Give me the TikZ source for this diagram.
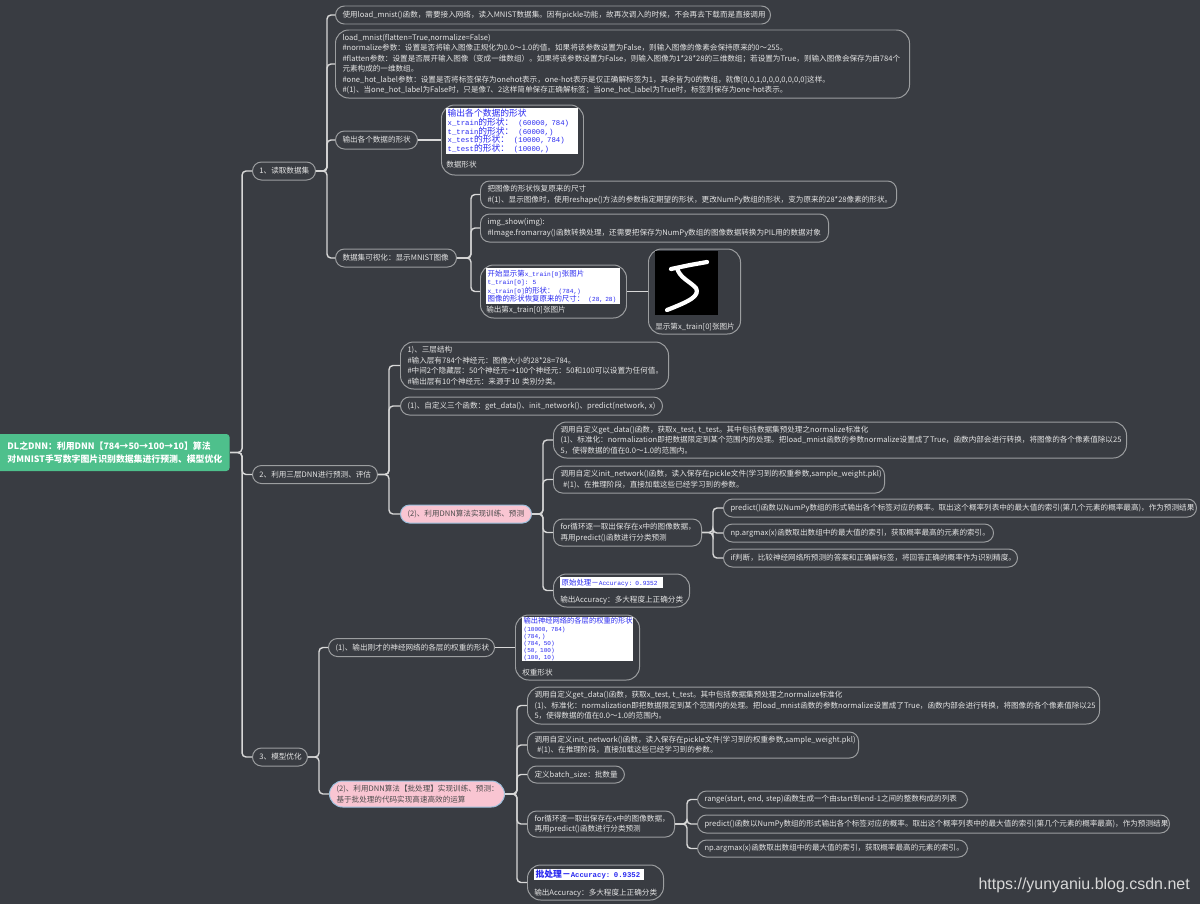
\documentclass[tikz,border=0pt]{standalone}
\usepackage{fontspec}
\setmainfont{Noto Sans CJK SC}
\setmonofont{Liberation Mono}
\setsansfont{Liberation Sans}
\newfontfamily\cnfont[Scale=1.2]{Noto Sans CJK SC}
\newcommand{\cn}[1]{{\cnfont #1}}
\definecolor{bggray}{HTML}{393C42}
\definecolor{edgegray}{HTML}{9C9EA0}
\definecolor{linkgray}{HTML}{D8D8D8}
\definecolor{textgray}{HTML}{E4E4E4}
\definecolor{rootgreen}{HTML}{4EC08C}
\definecolor{alertpink}{HTML}{F9C5D2}
\definecolor{alertedge}{HTML}{9CC0DC}
\definecolor{codeblue}{HTML}{2A2AF0}
\tikzset{
  topic/.style 2 args={draw=edgegray, line width=0.7pt, rounded corners=0.225cm, text=textgray, align=left,
    font=\fontsize{5.4}{7.5}\selectfont, anchor=west, inner ysep=0pt, inner xsep=0.175cm,
    text width=(#1-14)*0.025cm, minimum height=#2*0.025cm},
  tall/.style={rounded corners=0.33cm},
  alert/.style={fill=alertpink, draw=alertedge, text=black!70},
  shot/.style 2 args={fill=white, text=codeblue, align=left, anchor=north west, inner xsep=1pt, inner ysep=0pt,
    text width=#1*0.025cm-2pt, minimum height=#2*0.025cm,
    execute at begin node={\lineskiplimit=-10pt}},
  caption/.style={text=textgray, font=\fontsize{5.4}{7.5}\selectfont, anchor=west, inner sep=0pt},
  link/.style={draw=linkgray, line width=1pt, rounded corners=0.1cm},
}
\begin{document}
\begin{tikzpicture}[x=0.025cm, y=-0.025cm]
\useasboundingbox (0,0) rectangle (1200,904);
\clip (0,0) rectangle (1200,904);
\fill[bggray] (0,0) rectangle (1200,904);

% root and main branches
\node[topic={234}{37}, fill=rootgreen, draw=none, rounded corners=0.08cm, text=white, font=\bfseries\fontsize{6.3}{9}\selectfont, inner xsep=0.3cm, text width=5.25cm] (root) at (-5,452.5) {DL之DNN：利用DNN【784→50→100→10】算法\\对MNIST手写数字图片识别数据集进行预测、模型优化};
\node[topic={63}{18}] (read) at (252,171) {1、读取数据集};
\node[topic={125}{18}] (eval) at (252,474.5) {2、利用三层DNN进行预测、评估};
\node[topic={55}{18}] (tune) at (252,757) {3、模型优化};

% first branch
\node[topic={435}{18}] (mnist) at (335,15) {使用load\_mnist()函数，需要接入网络，读入MNIST数据集。因有pickle功能，故再次调入的时候，不会再去下载而是直接调用};
\node[topic={574}{68}, tall] (args) at (335,64) {load\_mnist(flatten=True,normalize=False)\\
\#normalize参数：设置是否将输入图像正规化为0.0～1.0的值。如果将该参数设置为False，则输入图像的像素会保持原来的0～255。\\
\#flatten参数：设置是否展开输入图像（变成一维数组）。如果将该参数设置为False，则输入图像为1*28*28的三维数组；若设置为True，则输入图像会保存为由784个\\
元素构成的一维数组。\\
\#one\_hot\_label参数：设置是否将标签保存为onehot表示，one-hot表示是仅正确解标签为1，其余皆为0的数组，就像[0,0,1,0,0,0,0,0,0,0]这样。\\
\#(1)、当one\_hot\_label为False时，只是像7、2这样简单保存正确解标签；当one\_hot\_label为True时，标签则保存为one-hot表示。};
\node[topic={82}{18}] (shape) at (335,140) {输出各个数据的形状};
\node[topic={142}{70}, tall] (shapepanel) at (441,140) {};
\node[shot={132}{46}, font=\ttfamily\fontsize{5.2}{6.2}\selectfont] (shapeshot) at (446,108) {\cn{输出各个数据的形状}\\x\_train\cn{的形状：}~~(60000, 784)\\t\_train\cn{的形状：}~~(60000,)\\x\_test\cn{的形状：}~~(10000, 784)\\t\_test\cn{的形状：}~~(10000,)};
\node[caption] (shapecap) at (446,165) {数据形状};
\node[topic={121}{18}] (show) at (335,258) {数据集可视化：显示MNIST图像};

\node[topic={416}{27}] (reshape) at (480,194.5) {把图像的形状恢复原来的尺寸\\\#(1)、显示图像时，使用reshape()方法的参数指定期望的形状，更改NumPy数组的形状，变为原来的28*28像素的形状。};
\node[topic={348}{28}] (imgshow) at (480,228) {img\_show(img):\\\#Image.fromarray()函数转换处理，还需要把保存为NumPy数组的图像数据转换为PIL用的数据对象};
\node[topic={146}{53}, tall] (firstpanel) at (480,291.5) {};
\node[shot={134}{36}, font=\ttfamily\fontsize{4.4}{6}\selectfont] (firstshot) at (486,268) {\cn{开始显示第}x\_train[0]\cn{张图片}\\t\_train[0]:~~5\\x\_train[0]\cn{的形状：}~~(784,)\\\cn{图像的形状恢复原来的尺寸：}~~(28, 28)};
\node[caption] (firstcap) at (486,310) {输出第x\_train[0]张图片};
\node[topic={92}{85}, tall] (digitpanel) at (648,291.5) {};
\node[fill=black, anchor=north west, minimum width=1.575cm, minimum height=1.6cm, inner sep=0pt] (digit) at (655,251) {};
\draw[white, line width=3pt, line cap=round, line join=round] (671,269) -- (690,265) -- (707,262);
\draw[white, line width=3pt, line cap=round, line join=round] (677,268) .. controls (680,278) and (688,280) .. (696,288) .. controls (700,296) and (690,301) .. (667,310);
\node[caption] (digitcap) at (655,327) {显示第x\_train[0]张图片};

% second branch
\node[topic={268}{47}, tall] (layers) at (400,365.5) {1)、三层结构\\\#输入层有784个神经元：图像大小的28*28=784。\\\#中间2个隐藏层：50个神经元→100个神经元：50和100可以设置为任何值。\\\#输出层有10个神经元：来源于10 类别分类。};
\node[topic={262}{18}] (funcs) at (400,406) {(1)、自定义三个函数：get\_data()、init\_network()、predict(network,~x)};
\node[topic={131}{18}, alert] (train) at (400,514) {(2)、利用DNN算法实现训练、预测};

\node[topic={573}{36}, tall] (getdata) at (553,440) {调用自定义get\_data()函数，获取x\_test, t\_test。其中包括数据集预处理之normalize标准化\\(1)、标准化：normalization即把数据限定到某个范围内的处理。把load\_mnist函数的参数normalize设置成了True，函数内部会进行转换，将图像的各个像素值除以25\\5，使得数据的值在0.0～1.0的范围内。};
\node[topic={331}{27}] (initnet) at (553,479.5) {调用自定义init\_network()函数，读入保存在pickle文件(学习到的权重参数,sample\_weight.pkl)\\~\#(1)、在推理阶段，直接加载这些已经学习到的参数。};
\node[topic={148}{27}] (loop) at (553,532.5) {for循环逐一取出保存在x中的图像数据，\\再用predict()函数进行分类预测};
\node[topic={136}{33}, tall] (accpanel) at (553,590.5) {};
\node[shot={103}{11}, font=\ttfamily\fontsize{4.4}{6}\selectfont] (accshot) at (560,577) {\cn{原始处理－}Accuracy: 0.9352};
\node[caption] (acccap) at (560,600) {输出Accuracy：多大程度上正确分类};

\node[topic={473}{18}] (predict) at (723,508) {predict()函数以NumPy数组的形式输出各个标签对应的概率。取出这个概率列表中的最大值的索引(第几个元素的概率最高)，作为预测结果};
\node[topic={270}{18}] (argmax) at (723,533) {np.argmax(x)函数取出数组中的最大值的索引，获取概率最高的元素的索引。};
\node[topic={294}{18}] (ifcheck) at (723,558) {if判断，比较神经网络所预测的答案和正确解标签，将回答正确的概率作为识别精度。};

% third branch
\node[topic={166}{18}] (weights) at (328,647.5) {(1)、输出刚才的神经网络的各层的权重的形状};
\node[topic={124}{65}, tall] (weightpanel) at (515,647.5) {};
\node[shot={111}{44}, font=\ttfamily\fontsize{4.3}{5.1}\selectfont] (weightshot) at (522,617) {\cn{输出神经网络的各层的权重的形状}\\(10000, 784)\\(784,)\\(784, 50)\\(50, 100)\\(100, 10)};
\node[caption] (weightcap) at (522,673) {权重形状};
\node[topic={175}{26}, alert, tall] (batch) at (329,794) {(2)、利用DNN算法【批处理】实现训练、预测：\\基于批处理的代码实现高速高效的运算};

\node[topic={572}{37}, tall] (getdatab) at (527,705.5) {调用自定义get\_data()函数，获取x\_test, t\_test。其中包括数据集预处理之normalize标准化\\(1)、标准化：normalization即把数据限定到某个范围内的处理。把load\_mnist函数的参数normalize设置成了True，函数内部会进行转换，将图像的各个像素值除以25\\5，使得数据的值在0.0～1.0的范围内。};
\node[topic={331}{26}] (initnetb) at (527,745) {调用自定义init\_network()函数，读入保存在pickle文件(学习到的权重参数,sample\_weight.pkl)\\~\#(1)、在推理阶段，直接加载这些已经学习到的参数。};
\node[topic={97}{17}] (size) at (527,774.5) {定义batch\_size：批数量};
\node[topic={147}{26}] (loopb) at (527,824) {for循环逐一取出保存在x中的图像数据，\\再用predict()函数进行分类预测};
\node[topic={136}{35}, tall] (accbpanel) at (527,882.5) {};
\node[shot={110}{11}, font=\ttfamily\bfseries\fontsize{5.2}{6}\selectfont] (accbshot) at (534,869) {\cn{批处理－}Accuracy: 0.9352};
\node[caption] (accbcap) at (534,893) {输出Accuracy：多大程度上正确分类};

\node[topic={270}{17}] (rangefn) at (697,799.5) {range(start, end, step)函数生成一个由start到end-1之间的整数构成的列表};
\node[topic={472}{18}] (predictb) at (697,824) {predict()函数以NumPy数组的形式输出各个标签对应的概率。取出这个概率列表中的最大值的索引(第几个元素的概率最高)，作为预测结果};
\node[topic={270}{17}] (argmaxb) at (697,848.5) {np.argmax(x)函数取出数组中的最大值的索引，获取概率最高的元素的索引。};

\node[text=linkgray, font=\sffamily\fontsize{11.35}{12}\selectfont, anchor=east, inner sep=0pt] (site) at (1190,885) {https://yunyaniu.blog.csdn.net};

% connectors
\foreach \kid in {read,eval,tune} \draw[link] (root.east) -- ++(12,0) |- (\kid.west);
\foreach \kid in {mnist,args,shape,show} \draw[link] (read.east) -- ++(11,0) |- (\kid.west);
\foreach \kid in {reshape,imgshow,firstpanel} \draw[link] (show.east) -- ++(14,0) |- (\kid.west);
\foreach \kid in {layers,funcs,train} \draw[link] (eval.east) -- ++(11,0) |- (\kid.west);
\foreach \kid in {getdata,initnet,loop,accpanel} \draw[link] (train.east) -- ++(11,0) |- (\kid.west);
\foreach \kid in {predict,argmax,ifcheck} \draw[link] (loop.east) -- ++(11,0) |- (\kid.west);
\foreach \kid in {weights,batch} \draw[link] (tune.east) -- ++(11,0) |- (\kid.west);
\foreach \kid in {getdatab,initnetb,size,loopb,accbpanel} \draw[link] (batch.east) -- ++(12,0) |- (\kid.west);
\foreach \kid in {rangefn,predictb,argmaxb} \draw[link] (loopb.east) -- ++(12,0) |- (\kid.west);
\draw[link] (shape.east) -- (shapepanel.west);
\draw[link] (firstpanel.east) -- (digitpanel.west);
\draw[link] (weights.east) -- (weightpanel.west);
\end{tikzpicture}
\end{document}
